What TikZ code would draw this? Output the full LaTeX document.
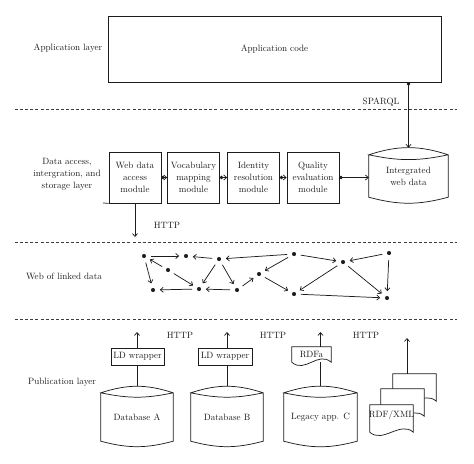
\documentclass[tikz,border=0pt]{standalone}
\usetikzlibrary{arrows.meta}
\definecolor{figink}{HTML}{1C1C1C}

% cylinder outline round a named (undrawn) node; top arc rises 0.27cm above it
\newcommand{\dboutline}[1]{%
  \draw[outline] (#1.north west) -- (#1.south west)
    to[bend right=15] (#1.south east) -- (#1.north east)
    to[bend right=18] (#1.north west)
    to[bend right=12] (#1.north east);}
% sheet with a wavy lower edge
\newcommand{\sheetoutline}[2][]{%
  \draw[outline,#1] (#2.north west) -- (#2.south west)
    .. controls ([xshift=0.5cm,yshift=-0.45cm]#2.south west)
            and ([xshift=-0.5cm,yshift=0.45cm]#2.south east) .. (#2.south east)
    -- (#2.north east) -- cycle;}

\begin{document}
\begin{tikzpicture}[
  x=0.0385cm,
  y=-0.0385cm,
  every node/.style={font=\fontsize{10pt}{13pt}\selectfont, text=figink},
  outline/.style={draw=figink, line width=0.8pt},
  layerline/.style={figink!85, line width=0.8pt,
                    dash pattern=on 3.3pt off 2.3pt},
  codebox/.style={outline, minimum width=12.82cm, minimum height=2.54cm},
  module/.style={outline, minimum width=2cm, minimum height=1.96cm,
                 align=center, inner sep=1pt},
  wrapper/.style={outline, minimum width=2.04cm, minimum height=0.65cm,
                  inner sep=1pt},
  store/.style={minimum width=2.77cm, minimum height=1.85cm,
                align=center, inner sep=0pt},
  sheet/.style={minimum width=1.66cm, minimum height=1.04cm, inner sep=0pt},
  ldot/.style={circle, fill=figink, inner sep=0pt, minimum size=4.5pt},
  flow/.style={outline,
               {Circle[length=3.8pt]}-{Straight Barb[length=3.2pt, width=5.5pt]}},
  link/.style={outline, -{Straight Barb[length=3.2pt, width=5.5pt]},
               shorten <=5pt, shorten >=5pt},
  up/.style={outline, -{Straight Barb[length=3.2pt, width=5.5pt]}}
]
  \useasboundingbox (0,0) rectangle (474,463);

  %% ---- application layer ---------------------------------------------
  \node[codebox] (app) at (274.5,49) {Application code};
  \node (lblapp) at (68,48) {Application layer};
  \node (sparql) at (381,102) {SPARQL};

  \draw[layerline] (15,109) -- (457,109);

  %% ---- data access, integration and storage --------------------------
  \node[align=center] (lblstore) at (67,174)
    {Data access,\\intergration, and\\storage layer};

  \node[module] (mod1) at (135,177.5) {Web data\\access\\module};
  \node[module] (mod2) at (193.5,177.5) {Vocabulary\\mapping\\module};
  \node[module] (mod3) at (253.5,177.5) {Identity\\resolution\\module};
  \node[module] (mod4) at (313,177.5) {Quality\\evaluation\\module};

  \node[store, minimum width=3.04cm, minimum height=1.62cm] (webdb)
    at (408.5,176) {Intergrated\\web data};
  \dboutline{webdb}

  \draw[flow] (mod1) -- (mod2);
  \draw[flow] (mod2) -- (mod3);
  \draw[flow] (mod3) -- (mod4);
  \draw[flow] (mod4.east) -- (mod4.east -| webdb.west);
  \draw[flow] (app.south -| webdb.north) -- ([yshift=0.27cm]webdb.north);

  \coordinate (storeedge) at (103,203);
  \coordinate (httpdown) at (135,237);
  \draw[outline] (storeedge) -- (mod1.south west);
  \draw[up] (mod1.south) -- (httpdown);
  \node (httpstore) at (167,225) {HTTP};

  \draw[layerline] (15,242) -- (457,242);

  %% ---- web of linked data --------------------------------------------
  \node (lblweb) at (64,276) {Web of linked data};

  \node[ldot] (p1) at (144,256) {};
  \node[ldot] (p2) at (186,256) {};
  \node[ldot] (p3) at (219,259) {};
  \node[ldot] (p4) at (294,254) {};
  \node[ldot] (p5) at (343,262) {};
  \node[ldot] (p6) at (389,253) {};
  \node[ldot] (p7) at (168,270) {};
  \node[ldot] (p8) at (259,274) {};
  \node[ldot] (p9) at (153,290) {};
  \node[ldot] (p10) at (199,289) {};
  \node[ldot] (p11) at (237,290) {};
  \node[ldot] (p12) at (294,294) {};
  \node[ldot] (p13) at (387,298) {};

  \foreach \s/\t in {p1/p2, p3/p2, p4/p3, p4/p5, p6/p5, p1/p9, p7/p1,
                     p7/p10, p3/p10, p3/p11, p10/p9, p11/p10, p11/p8,
                     p4/p8, p8/p12, p5/p12, p5/p13, p6/p13, p12/p13}
    \draw[link] (\s) -- (\t);

  \draw[layerline] (15,319) -- (457,319);

  %% ---- publication layer ---------------------------------------------
  \node (lblpub) at (62,382) {Publication layer};

  \node[store] (dbA) at (137,417) {Database A};
  \node[store] (dbB) at (227,417) {Database B};
  \node[store, minimum width=2.81cm] (dbC) at (320.5,417) {Legacy app. C};
  \dboutline{dbA}
  \dboutline{dbB}
  \dboutline{dbC}

  \node[wrapper] (wrapA) at (137.5,356.5) {LD wrapper};
  \node[wrapper, minimum width=2.08cm] (wrapB) at (225,356.5) {LD wrapper};
  \node[sheet, minimum width=1.5cm, minimum height=0.58cm] (rdfa)
    at (311.5,354.5) {RDFa};
  \sheetoutline{rdfa}

  \draw[outline] ([yshift=0.27cm]dbA.north) -- (dbA.north |- wrapA.south);
  \draw[outline] ([yshift=0.27cm]dbB.north) -- (dbB.north |- wrapB.south);
  \draw[outline] ([yshift=0.27cm]dbC.north) -- (dbC.north |- rdfa.south);

  \coordinate (httpA) at (137,332);
  \coordinate (httpB) at (227,332);
  \coordinate (httpC) at (320.5,332);
  \coordinate (httpD) at (407,338);
  \draw[up] (wrapA.north -| httpA) -- (httpA);
  \draw[up] (wrapB.north -| httpB) -- (httpB);
  \draw[up] (rdfa.north -| httpC) -- (httpC);
  \node (httpa) at (180,335) {HTTP};
  \node (httpb) at (273,335) {HTTP};
  \node (httpc) at (366,335) {HTTP};

  % stacked RDF/XML files, back to front
  \node[sheet] (docback) at (414.5,387.5) {};
  \sheetoutline[fill=white]{docback}
  \node[sheet] (docmid) at (402.5,402.5) {};
  \sheetoutline[fill=white]{docmid}
  \node[sheet] (docfront) at (391.5,418.5) {};
  \sheetoutline[fill=white]{docfront}
  \node (rdfxml) at (391.5,415) {RDF/XML};
  \draw[up] (docback.north -| httpD) -- (httpD);
\end{tikzpicture}
\end{document}
